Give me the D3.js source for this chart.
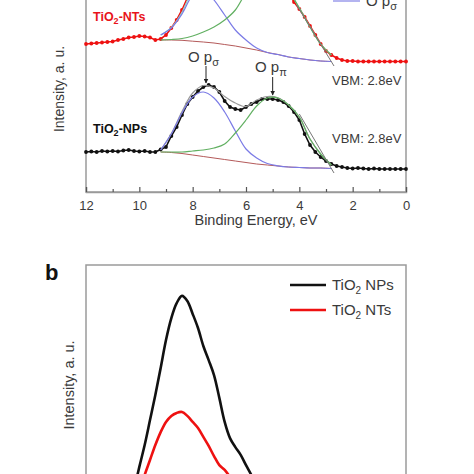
<!DOCTYPE html>
<html>
<head>
<meta charset="utf-8">
<script src="https://cdn.jsdelivr.net/npm/d3@7"></script>
<style>
body { margin: 0; background: #fff; }
svg { display: block; font-family: Arial, "Liberation Sans", sans-serif; }
</style>
</head>
<body>
<svg id="chart"></svg>
<script>
// ---- panel a: valence band spectra ----
const energy = [12.0, 11.8, 11.6, 11.4, 11.2, 11.0, 10.8, 10.6, 10.4, 10.2, 10.0, 9.8, 9.6, 9.4, 9.2, 9.0,
    8.8, 8.6, 8.4, 8.2, 8.0, 7.8, 7.6, 7.4, 7.2, 7.0, 6.8, 6.6, 6.4, 6.2, 6.0, 5.8, 5.6, 5.4, 5.2, 5.0,
    4.8, 4.6, 4.4, 4.2, 4.0, 3.8, 3.6, 3.4, 3.2, 3.0, 2.8, 2.6, 2.4, 2.2, 2.0, 1.8, 1.6, 1.4, 1.2, 1.0,
    0.8, 0.6, 0.4, 0.2, 0.0];
const npCounts = [4.0, 4.05, 4.0, 4.1, 4.05, 4.1, 4.05, 4.15, 4.2, 4.1, 4.05, 4.1, 4.0, 4.0, 4.25, 4.5,
    5.6, 6.5, 7.7, 8.8, 9.5, 10.1, 10.5, 10.7, 10.5, 10.0, 9.1, 8.5, 8.3, 8.2, 8.5, 8.8, 9.0, 9.3, 9.3, 9.3,
    9.2, 9.0, 8.6, 8.0, 7.2, 5.8, 4.7, 4.0, 3.5, 3.1, 2.8, 2.6, 2.5, 2.4, 2.35, 2.4, 2.35, 2.3, 2.35, 2.3,
    2.3, 2.3, 2.3, 2.3, 2.3];
const ntCounts = [14.8, 14.85, 14.9, 14.95, 15.0, 15.05, 15.2, 15.3, 15.45, 15.5, 15.6, 15.55, 15.45, 15.2, 15.3, 15.7,
    16.4, 17.2, 18.2, 19.4, 20.6, 21.6, 22.2, 22.5, 22.4, 22.0, 21.2, 20.6, 20.4, 20.6, 21.2, 21.8, 22.3, 22.7, 22.8, 22.7,
    22.2, 21.2, 20.0, 19.0, 18.3, 17.5, 16.6, 15.7, 14.8, 14.1, 13.7, 13.4, 13.2, 13.1, 13.1, 13.05, 13.05, 13.05, 13.05, 13.05,
    13.05, 13.05, 13.05, 13.05, 13.05];

// fitted components
const fitEnergy = [9.2, 8.8, 8.4, 8.0, 7.6, 7.2, 6.8, 6.4, 6.0, 5.6, 5.2, 4.8, 4.4, 4.0, 3.6, 3.2, 2.8];
const npBackground = [4.0, 3.95, 3.85, 3.7, 3.55, 3.4, 3.25, 3.1, 2.95, 2.8, 2.7, 2.6, 2.5, 2.45, 2.4, 2.4, 2.35];
const npSigma = [4.2, 5.8, 7.9, 9.5, 10.0, 9.4, 8.0, 6.1, 4.3, 3.4, 2.85, 2.62, 2.5, 2.45, 2.4, 2.4, 2.35];
const npPi = [4.0, 4.0, 4.0, 4.1, 4.2, 4.4, 4.8, 5.9, 7.2, 8.6, 9.4, 9.4, 8.7, 7.5, 5.3, 3.8, 2.7];
const npEnvelope = [4.2, 5.85, 8.05, 9.9, 10.65, 10.4, 9.55, 8.9, 8.55, 9.2, 9.55, 9.42, 8.7, 7.5, 5.3, 3.8, 2.7];
const ntBackground = [15.2, 15.2, 15.17, 15.08, 15.0, 14.9, 14.75, 14.6, 14.4, 14.2, 13.95, 13.75, 13.5, 13.35, 13.2, 13.1, 13.05];
const ntSigma = [15.7, 16.4, 17.8, 19.7, 20.4, 19.2, 17.7, 16.2, 15.2, 14.4, 13.95, 13.75, 13.5, 13.35, 13.2, 13.1, 13.05];
const ntPi = [15.2, 15.25, 15.35, 15.6, 16.0, 16.5, 17.2, 18.2, 20.0, 21.7, 22.5, 22.2, 20.2, 18.4, 16.5, 14.8, 13.7];
const ntEnvelope = [15.7, 16.45, 17.98, 20.22, 21.4, 20.8, 20.15, 19.8, 20.8, 21.9, 22.5, 22.2, 20.2, 18.4, 16.5, 14.8, 13.7];

// valence band edge tangents
const vbmNP = [[4.0, 7.8], [2.7, 1.9]];
const vbmNT = [[4.1, 18.7], [2.7, 12.6]];
const energyTicks = [12, 10, 8, 6, 4, 2, 0];
const energyMinor = [11, 9, 7, 5, 3, 1];

// ---- panel b: PL spectra ----
const wavelength = [395, 400, 405, 410, 415, 420, 425, 430, 435, 440, 445, 450, 455, 460, 465, 470, 475, 480,
    485, 490, 495, 500, 505, 510];
const plNP = [2.5, 3.27, 4.0, 4.83, 5.67, 6.57, 7.5, 8.23, 8.73, 8.97, 8.8, 8.37, 7.9, 7.3, 6.83, 6.33, 5.57, 4.77,
    4.23, 3.93, 3.67, 3.33, 3.0, 2.6];
const plNT = [1.8, 2.4, 3.0, 3.5, 4.0, 4.43, 4.77, 4.97, 5.07, 5.1, 4.97, 4.77, 4.57, 4.27, 3.97, 3.63, 3.33, 3.17,
    2.93, 2.63, 2.3, 2.0, 1.7, 1.4];

const W = 474, H = 474;
const svg = d3.select('#chart').attr('width', W).attr('height', H);
svg.append('rect').attr('width', W).attr('height', H).attr('fill', '#fff');

const axisColor = '#9a9a9a';
const textColor = '#3a3a3a';

// ----- panel a -----
const x = d3.scaleLinear().domain([12, 0]).range([86, 406]);
const y = d3.scaleLinear().domain([0, 22]).range([192, -28]);

const a = svg.append('g');

a.append('rect')
    .attr('x', x(12)).attr('y', -60)
    .attr('width', x(0) - x(12)).attr('height', 192 + 60)
    .attr('fill', 'none').attr('stroke', axisColor).attr('stroke-width', 1.5);

const xAxis = d3.axisBottom(x).tickValues(energyTicks).tickSize(-5).tickPadding(9);
const xAxisMinor = d3.axisBottom(x).tickValues(energyMinor).tickSize(-3).tickFormat('');

const xg = a.append('g').attr('transform', `translate(0, ${y(0)})`).call(xAxis);
a.append('g').attr('transform', `translate(0, ${y(0)})`).call(xAxisMinor)
    .call(g => g.select('.domain').remove());
a.selectAll('.tick line').attr('stroke', '#555').attr('stroke-width', 1.2);
xg.select('.domain').attr('stroke', axisColor).attr('stroke-width', 1.5);
xg.selectAll('.tick text').attr('font-size', 13).attr('fill', textColor)
    .attr('font-family', 'Arial, "Liberation Sans", sans-serif');

a.append('text')
    .attr('x', 256).attr('y', 225)
    .attr('text-anchor', 'middle')
    .attr('font-size', 14.5).attr('fill', textColor)
    .text('Binding Energy, eV');

a.append('text')
    .attr('transform', 'translate(64, 89) rotate(-90)')
    .attr('text-anchor', 'middle')
    .attr('font-size', 14).attr('fill', textColor)
    .text('Intensity, a. u.');

const fitLine = d3.line()
    .x((d, i) => x(fitEnergy[i]))
    .y(d => y(d))
    .curve(d3.curveCatmullRom);

function drawFits(bg, sigma, pi, env, envColor) {
    a.append('path').datum(env).attr('d', fitLine)
        .attr('fill', 'none').attr('stroke', envColor).attr('stroke-width', 1.2);
    a.append('path').datum(bg).attr('d', fitLine)
        .attr('fill', 'none').attr('stroke', '#b45a5a').attr('stroke-width', 1);
    a.append('path').datum(sigma).attr('d', fitLine)
        .attr('fill', 'none').attr('stroke', '#7b7be6').attr('stroke-width', 1.2);
    a.append('path').datum(pi).attr('d', fitLine)
        .attr('fill', 'none').attr('stroke', '#62b062').attr('stroke-width', 1.2);
}

function drawCounts(counts, color) {
    const line = d3.line().x((d, i) => x(energy[i])).y(d => y(d));
    a.append('path').datum(counts).attr('d', line)
        .attr('fill', 'none').attr('stroke', color).attr('stroke-width', 1.6);
    a.append('g').selectAll('circle')
        .data(counts)
        .join('circle')
        .attr('cx', (d, i) => x(energy[i]))
        .attr('cy', d => y(d))
        .attr('r', 1.9)
        .attr('fill', color);
}

drawCounts(ntCounts, '#ee1111');
drawFits(ntBackground, ntSigma, ntPi, ntEnvelope, '#8fd6c4');
drawCounts(npCounts, '#111');
drawFits(npBackground, npSigma, npPi, npEnvelope, '#9a9a9a');

const vbmLine = d3.line().x(d => x(d[0])).y(d => y(d[1]));
[vbmNP, vbmNT].forEach(seg => {
    a.append('path').datum(seg).attr('d', vbmLine)
        .attr('stroke', '#777').attr('stroke-width', 1).attr('fill', 'none');
});

// sample labels
function sampleLabel(tx, ty, name, color) {
    const t = a.append('text').attr('x', tx).attr('y', ty)
        .attr('font-size', 12.5).attr('font-weight', 'bold').attr('fill', color);
    t.append('tspan').text('TiO');
    t.append('tspan').attr('dy', 3).attr('font-size', 9).text('2');
    t.append('tspan').attr('dy', -3).text(name);
}
sampleLabel(93, 21, '-NTs', '#e8141b');
sampleLabel(93, 133, '-NPs', '#111');

a.append('text').attr('x', 332).attr('y', 85).attr('font-size', 13).attr('fill', textColor).text('VBM: 2.8eV');
a.append('text').attr('x', 332).attr('y', 143).attr('font-size', 13).attr('fill', textColor).text('VBM: 2.8eV');

// orbital annotations
function orbital(tx, ty, sub) {
    const t = a.append('text').attr('x', tx).attr('y', ty)
        .attr('font-size', 15).attr('fill', textColor);
    t.append('tspan').text('O p');
    t.append('tspan').attr('dy', 4).attr('font-size', 11).text(sub);
}
orbital(188, 62, 'σ');
orbital(255, 72, 'π');

svg.append('defs').append('marker')
    .attr('id', 'arrow').attr('viewBox', '0 0 10 10')
    .attr('refX', 9).attr('refY', 5)
    .attr('markerWidth', 5).attr('markerHeight', 5)
    .attr('orient', 'auto')
    .append('path').attr('d', 'M0,0 L10,5 L0,10 z').attr('fill', '#222');

a.append('line').attr('x1', x(7.5)).attr('x2', x(7.5)).attr('y1', 66).attr('y2', 83)
    .attr('stroke', '#222').attr('stroke-width', 1).attr('marker-end', 'url(#arrow)');
a.append('line').attr('x1', x(5.0)).attr('x2', x(5.0)).attr('y1', 77).attr('y2', 95)
    .attr('stroke', '#222').attr('stroke-width', 1).attr('marker-end', 'url(#arrow)');

// legend fragment visible at the top
a.append('rect').attr('x', 333).attr('y', -6).attr('width', 27).attr('height', 8).attr('fill', '#b4b4f0');
const lg = a.append('text').attr('x', 366).attr('y', 6).attr('font-size', 15).attr('fill', textColor);
lg.append('tspan').text('O p');
lg.append('tspan').attr('dy', 4).attr('font-size', 11).text('σ');

// ----- panel b -----
const xb = d3.scaleLinear().domain([350, 650]).range([86, 406]);
const yb = d3.scaleLinear().domain([0, 10]).range([565, 265]);

const b = svg.append('g');
b.append('rect')
    .attr('x', xb(350)).attr('y', yb(10))
    .attr('width', xb(650) - xb(350)).attr('height', 300)
    .attr('fill', 'none').attr('stroke', axisColor).attr('stroke-width', 1.5);

b.append('text').attr('x', 45).attr('y', 280)
    .attr('font-size', 22).attr('font-weight', 'bold').attr('fill', '#111').text('b');

b.append('text')
    .attr('transform', 'translate(74, 385) rotate(-90)')
    .attr('text-anchor', 'middle')
    .attr('font-size', 14.5).attr('fill', textColor)
    .text('Intensity, a. u.');

const plLine = d3.line().x((d, i) => xb(wavelength[i])).y(d => yb(d)).curve(d3.curveCatmullRom);
b.append('path').datum(plNP).attr('d', plLine)
    .attr('fill', 'none').attr('stroke', '#111').attr('stroke-width', 2.6);
b.append('path').datum(plNT).attr('d', plLine)
    .attr('fill', 'none').attr('stroke', '#ee1111').attr('stroke-width', 2.6);

const legendItems = [{ name: ' NPs', color: '#111', ly: 285 }, { name: ' NTs', color: '#ee1111', ly: 310 }];
legendItems.forEach(d => {
    b.append('line').attr('x1', 290).attr('x2', 326).attr('y1', d.ly).attr('y2', d.ly)
        .attr('stroke', d.color).attr('stroke-width', 2.6);
    const t = b.append('text').attr('x', 332).attr('y', d.ly + 5)
        .attr('font-size', 15).attr('fill', textColor);
    t.append('tspan').text('TiO');
    t.append('tspan').attr('dy', 4).attr('font-size', 10).text('2');
    t.append('tspan').attr('dy', -4).text(d.name);
});
</script>
</body>
</html>
